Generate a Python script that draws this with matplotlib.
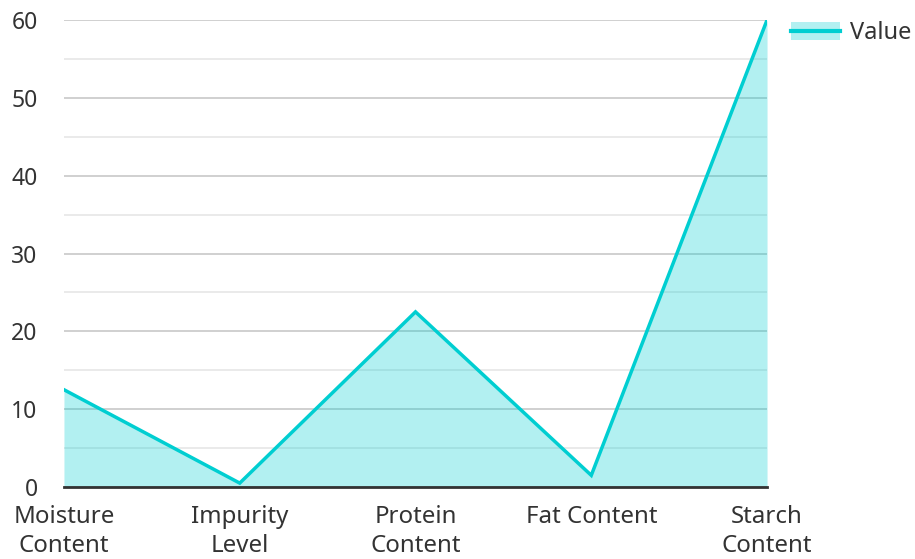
import matplotlib.pyplot as plt
from matplotlib.patches import Patch
from matplotlib.lines import Line2D
from matplotlib.ticker import MultipleLocator

plt.rcParams['font.family'] = ['Noto Sans', 'DejaVu Sans']

categories = ['Moisture\nContent', 'Impurity\nLevel', 'Protein\nContent', 'Fat Content', 'Starch\nContent']
values = [12.5, 0.5, 22.5, 1.5, 60]

line_color = '#00CED1'
text_color = '#333333'

fig = plt.figure(figsize=(9.15, 5.59), dpi=100)
ax = fig.add_axes([0.0699, 0.1288, 0.7684, 0.8354])

x = list(range(len(categories)))
ax.fill_between(x, values, 0, color=line_color, alpha=0.3, linewidth=0, zorder=2)
ax.plot(x, values, color=line_color, linewidth=2.5, zorder=3, solid_joinstyle='miter')

ax.set_xlim(0, len(categories) - 1)
ax.set_ylim(0, 60)
ax.yaxis.set_major_locator(MultipleLocator(10))
ax.yaxis.set_minor_locator(MultipleLocator(5))
ax.grid(axis='y', which='major', color='#c8c8c8', linewidth=1.2, zorder=1)
ax.grid(axis='y', which='minor', color='#e6e6e6', linewidth=1.2, zorder=1)

for side in ['top', 'right', 'left']:
    ax.spines[side].set_visible(False)
ax.spines['bottom'].set_color('#333333')
ax.spines['bottom'].set_linewidth(2)
ax.spines['bottom'].set_zorder(4)

ax.set_xticks(x)
ax.set_xticklabels(categories, fontsize=17.3, color=text_color, linespacing=1.3)
ax.tick_params(axis='x', length=0, pad=13)
ax.tick_params(axis='y', which='both', length=0, pad=19, labelsize=16.5, labelcolor=text_color)

handle = (Patch(facecolor=line_color, alpha=0.3, edgecolor='none'),
          Line2D([], [], color=line_color, linewidth=3))
fig.legend([handle], ['Value'], loc='upper left', bbox_to_anchor=(0.864, 0.962),
           frameon=False, fontsize=17, labelcolor=text_color, borderpad=0,
           borderaxespad=0, handlelength=2.1, handleheight=0.8, handletextpad=0.42)

fig.savefig('out.png', dpi=100)
